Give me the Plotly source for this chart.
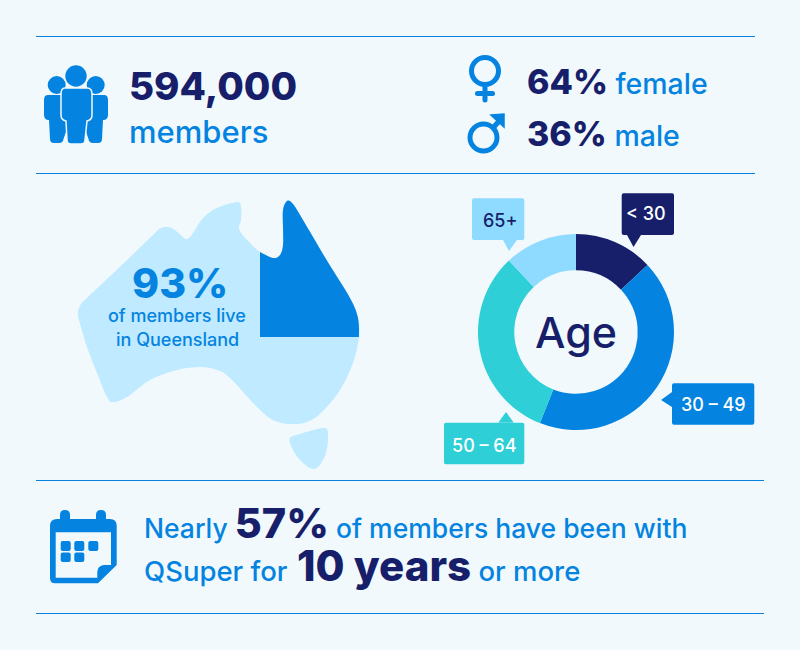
import plotly.graph_objects as go

# COLOURS
BG = '#F2F9FD'
NAVY = '#171F6B'
BLUE = '#0484E0'
PALE = '#BFEAFF'

# DATA
age_groups = ['< 30', '30 – 49', '50 – 64', '65+']
age_values = [13, 43, 32, 12]
age_colors = [NAVY, BLUE, '#2ECFD6', '#8EDBFF']
age_text_colors = ['white', 'white', 'white', NAVY]

member_count = '594,000'
female_share = '64%'
male_share = '36%'
queensland_share = '93%'
tenure_share = '57%'
tenure_years = '10 years'

FONT = 'Inter'

# outlines, in pixels
mainland = [(78, 312), (81, 304), (88, 297), (124, 263), (156, 232), (161, 228), (167, 227), (175, 230),
            (186, 239), (193, 233), (203, 218), (217, 208), (237, 202), (241, 207), (241, 220),
            (239, 229), (247, 240), (260, 252), (273, 258), (280, 255), (283, 245), (283, 228),
            (283, 210), (287, 201), (293, 204), (303, 220), (326, 259), (350, 298), (358, 318),
            (359, 337), (353, 363), (340, 390), (322, 412), (307, 422), (290, 424), (273, 420),
            (257, 407), (230, 378), (217, 370), (200, 367), (177, 370), (150, 380), (127, 397),
            (113, 402), (107, 397), (97, 373), (87, 347), (79, 320)]
queensland = [(260, 252), (273, 258), (280, 255), (283, 245), (283, 228), (283, 210), (287, 201),
              (293, 204), (303, 220), (326, 259), (350, 298), (358, 318), (359, 337)]
tasmania = [(290, 438), (300, 434), (323, 428), (328, 433), (326, 453), (318, 467), (310, 468),
            (300, 460), (292, 448)]


def smooth(pts, closed=True):
    # catmull-rom through the traced points
    n = len(pts)
    path = f'M{pts[0][0]},{pts[0][1]}'
    for i in range(n if closed else n - 1):
        if closed:
            p0, p1, p2, p3 = pts[i - 1], pts[i], pts[(i + 1) % n], pts[(i + 2) % n]
        else:
            p0, p1, p2, p3 = pts[max(i - 1, 0)], pts[i], pts[i + 1], pts[min(i + 2, n - 1)]
        c1 = (p1[0] + (p2[0] - p0[0]) / 6, p1[1] + (p2[1] - p0[1]) / 6)
        c2 = (p2[0] - (p3[0] - p1[0]) / 6, p2[1] - (p3[1] - p1[1]) / 6)
        path += f' C{c1[0]:.1f},{c1[1]:.1f} {c2[0]:.1f},{c2[1]:.1f} {p2[0]},{p2[1]}'
    return path + (' Z' if closed else '')


shapes = []


def add_path(path, color, line=None, width=0):
    shapes.append(dict(type='path', path=path, fillcolor=color, layer='below',
                       line=dict(color=line or color, width=width)))


def add_line(x0, y0, x1, y1, color=BLUE, width=1):
    shapes.append(dict(type='line', x0=x0, y0=y0, x1=x1, y1=y1, layer='below',
                       line=dict(color=color, width=width)))


def add_circle(cx, cy, r, fill, line=None, width=0):
    shapes.append(dict(type='circle', x0=cx - r, x1=cx + r, y0=cy - r, y1=cy + r, layer='below',
                       fillcolor=fill, line=dict(color=line or fill, width=width)))


def rounded_box(x0, y0, x1, y1, r=2):
    return (f'M{x0 + r},{y0} L{x1 - r},{y0} Q{x1},{y0} {x1},{y0 + r} L{x1},{y1 - r} '
            f'Q{x1},{y1} {x1 - r},{y1} L{x0 + r},{y1} Q{x0},{y1} {x0},{y1 - r} '
            f'L{x0},{y0 + r} Q{x0},{y0} {x0 + r},{y0} Z')


# dividers
add_line(36, 36.5, 755, 36.5)
add_line(36, 173.5, 755, 173.5)
add_line(36, 480.5, 764, 480.5)
add_line(36, 613.5, 764, 613.5)

# map
add_path(smooth(mainland), PALE)
add_path(smooth(tasmania), PALE)
add_path(smooth(queensland, closed=False) + ' L260,337 Z', BLUE)

# people icon
add_circle(56.7, 85, 9, BLUE)
add_circle(95.7, 85, 9, BLUE)
add_path('M48,95 L64,95 L70,120 L63.5,139 Q63,143 59,143 L54,143 Q50,143 50,139 L49,120 '
         'Q44,120 44,115 L44,100 Q44,95 48,95 Z', BLUE)
add_path('M104,95 L88,95 L82,120 L88.5,139 Q89,143 93,143 L98,143 Q102,143 102,139 L103,120 '
         'Q108,120 108,115 L108,100 Q108,95 104,95 Z', BLUE)
add_circle(76, 76, 10.7, BLUE)
add_path('M65,88 L87,88 Q92,88 92,94 L92,115 Q92,120 87,121 L85,140 Q85,144 81,144 L71,144 '
         'Q67,144 67,140 L66,121 Q61,120 61,115 L61,94 Q61,88 65,88 Z', BLUE, line=BG, width=1.5)

# female / male icons
add_circle(485, 71, 13.5, BG, line=BLUE, width=5)
add_path(rounded_box(482.5, 85, 487.5, 102.5, r=2.5), BLUE)
add_path(rounded_box(475, 91, 495, 96, r=2.5), BLUE)
add_circle(483.5, 137.5, 13.5, BG, line=BLUE, width=5)
add_line(493, 128, 500, 120, width=5)
add_path('M491,115 L504,114 L504,127 Z', BLUE, width=1.5)

# calendar icon
add_path('M57,519 L110,519 Q116.7,519 116.7,526 L116.7,565 L98,583.3 L55,583.3 Q50,583.3 50,578 '
         'L50,526 Q50,519 57,519 Z', BLUE)
add_path(rounded_box(60, 510, 70, 525, r=5), BLUE)
add_path(rounded_box(96, 510, 106, 525, r=5), BLUE)
add_path('M55.7,532.3 L111,532.3 L111,565 L104,565 Q97.3,566 97.3,572 L97.3,577.7 L55.7,577.7 Z', BG)
for cx in [65.7, 79.3, 93.3]:
    add_path(rounded_box(cx - 5, 541, cx + 5, 551), BLUE)
for cx in [65.7, 79.3]:
    add_path(rounded_box(cx - 5, 552.5, cx + 5, 562), BLUE)

# age callouts
add_path(rounded_box(621.7, 193.3, 674, 235) + ' M627,235 L633.5,247 L641,235 Z', age_colors[0])
add_path(rounded_box(672, 383.3, 754.3, 424.7) + ' M672,392 L661,400 L672,407 Z', age_colors[1])
add_path(rounded_box(444, 422.7, 524.3, 464.3) + ' M498,423 L506,412 L514,423 Z', age_colors[2])
add_path(rounded_box(472, 198.3, 524.3, 240) + ' M503,240 L509,251 L517,240 Z', age_colors[3])


def text(x, y, s, size, color=BLUE, anchor='left', weight=450):
    return dict(x=x, y=y, text=s, showarrow=False, xanchor=anchor, yanchor='middle',
                font=dict(family=FONT, size=size, color=color, weight=weight))


def big(s, size):
    return f'<span style="font-size:{size}px;color:{NAVY};font-weight:800">{s}</span>'


annotations = [
    text(127, 86, member_count, 38.5, NAVY, weight=800),
    text(127, 131, 'members', 31),
    text(525, 81, big(female_share, 34) + ' female', 28.5),
    text(525, 133, big(male_share, 34) + ' male', 28.5),
    text(180, 283, queensland_share, 41, anchor='center', weight=800),
    text(177, 315, 'of members live', 18, anchor='center'),
    text(177, 339, 'in Queensland', 18, anchor='center'),
    text(576, 332, 'Age', 43, NAVY, anchor='center', weight=550),
    text(142, 523, 'Nearly ' + big(tenure_share, 41.5) + ' of members have been with', 26.5),
    text(142, 565, 'QSuper for\u2009\u2009' + big(tenure_years, 42) + ' or more', 27.5),
]
# callout labels come from the age groups
for label, tc, (cx, cy) in zip(age_groups, age_text_colors,
                               [(646, 213), (713, 404), (484, 445), (500, 220)]):
    annotations.append(text(cx, cy, label, 18, tc, anchor='center'))

fig = go.Figure()
fig.add_trace(go.Pie(
    labels=age_groups, values=age_values, sort=False, direction='clockwise', rotation=0,
    hole=0.63, textinfo='none', hoverinfo='skip', showlegend=False,
    marker=dict(colors=age_colors, line=dict(width=0)),
    domain=dict(x=[478 / 800, 674 / 800], y=[1 - 430 / 650, 1 - 234 / 650]),
))
# empty trace, only there so the pixel axes exist for the shapes
fig.add_trace(go.Scatter(x=[None], y=[None], mode='markers', hoverinfo='skip', showlegend=False))

fig.update_layout(
    width=800, height=650, margin=dict(l=0, r=0, t=0, b=0),
    paper_bgcolor=BG, plot_bgcolor=BG, showlegend=False,
    xaxis=dict(range=[0, 800], visible=False, fixedrange=True),
    yaxis=dict(range=[650, 0], visible=False, fixedrange=True),
    shapes=shapes, annotations=annotations,
)

fig.write_html('out.html', config={'displayModeBar': False},
               post_script="document.body.style.margin='0';")
